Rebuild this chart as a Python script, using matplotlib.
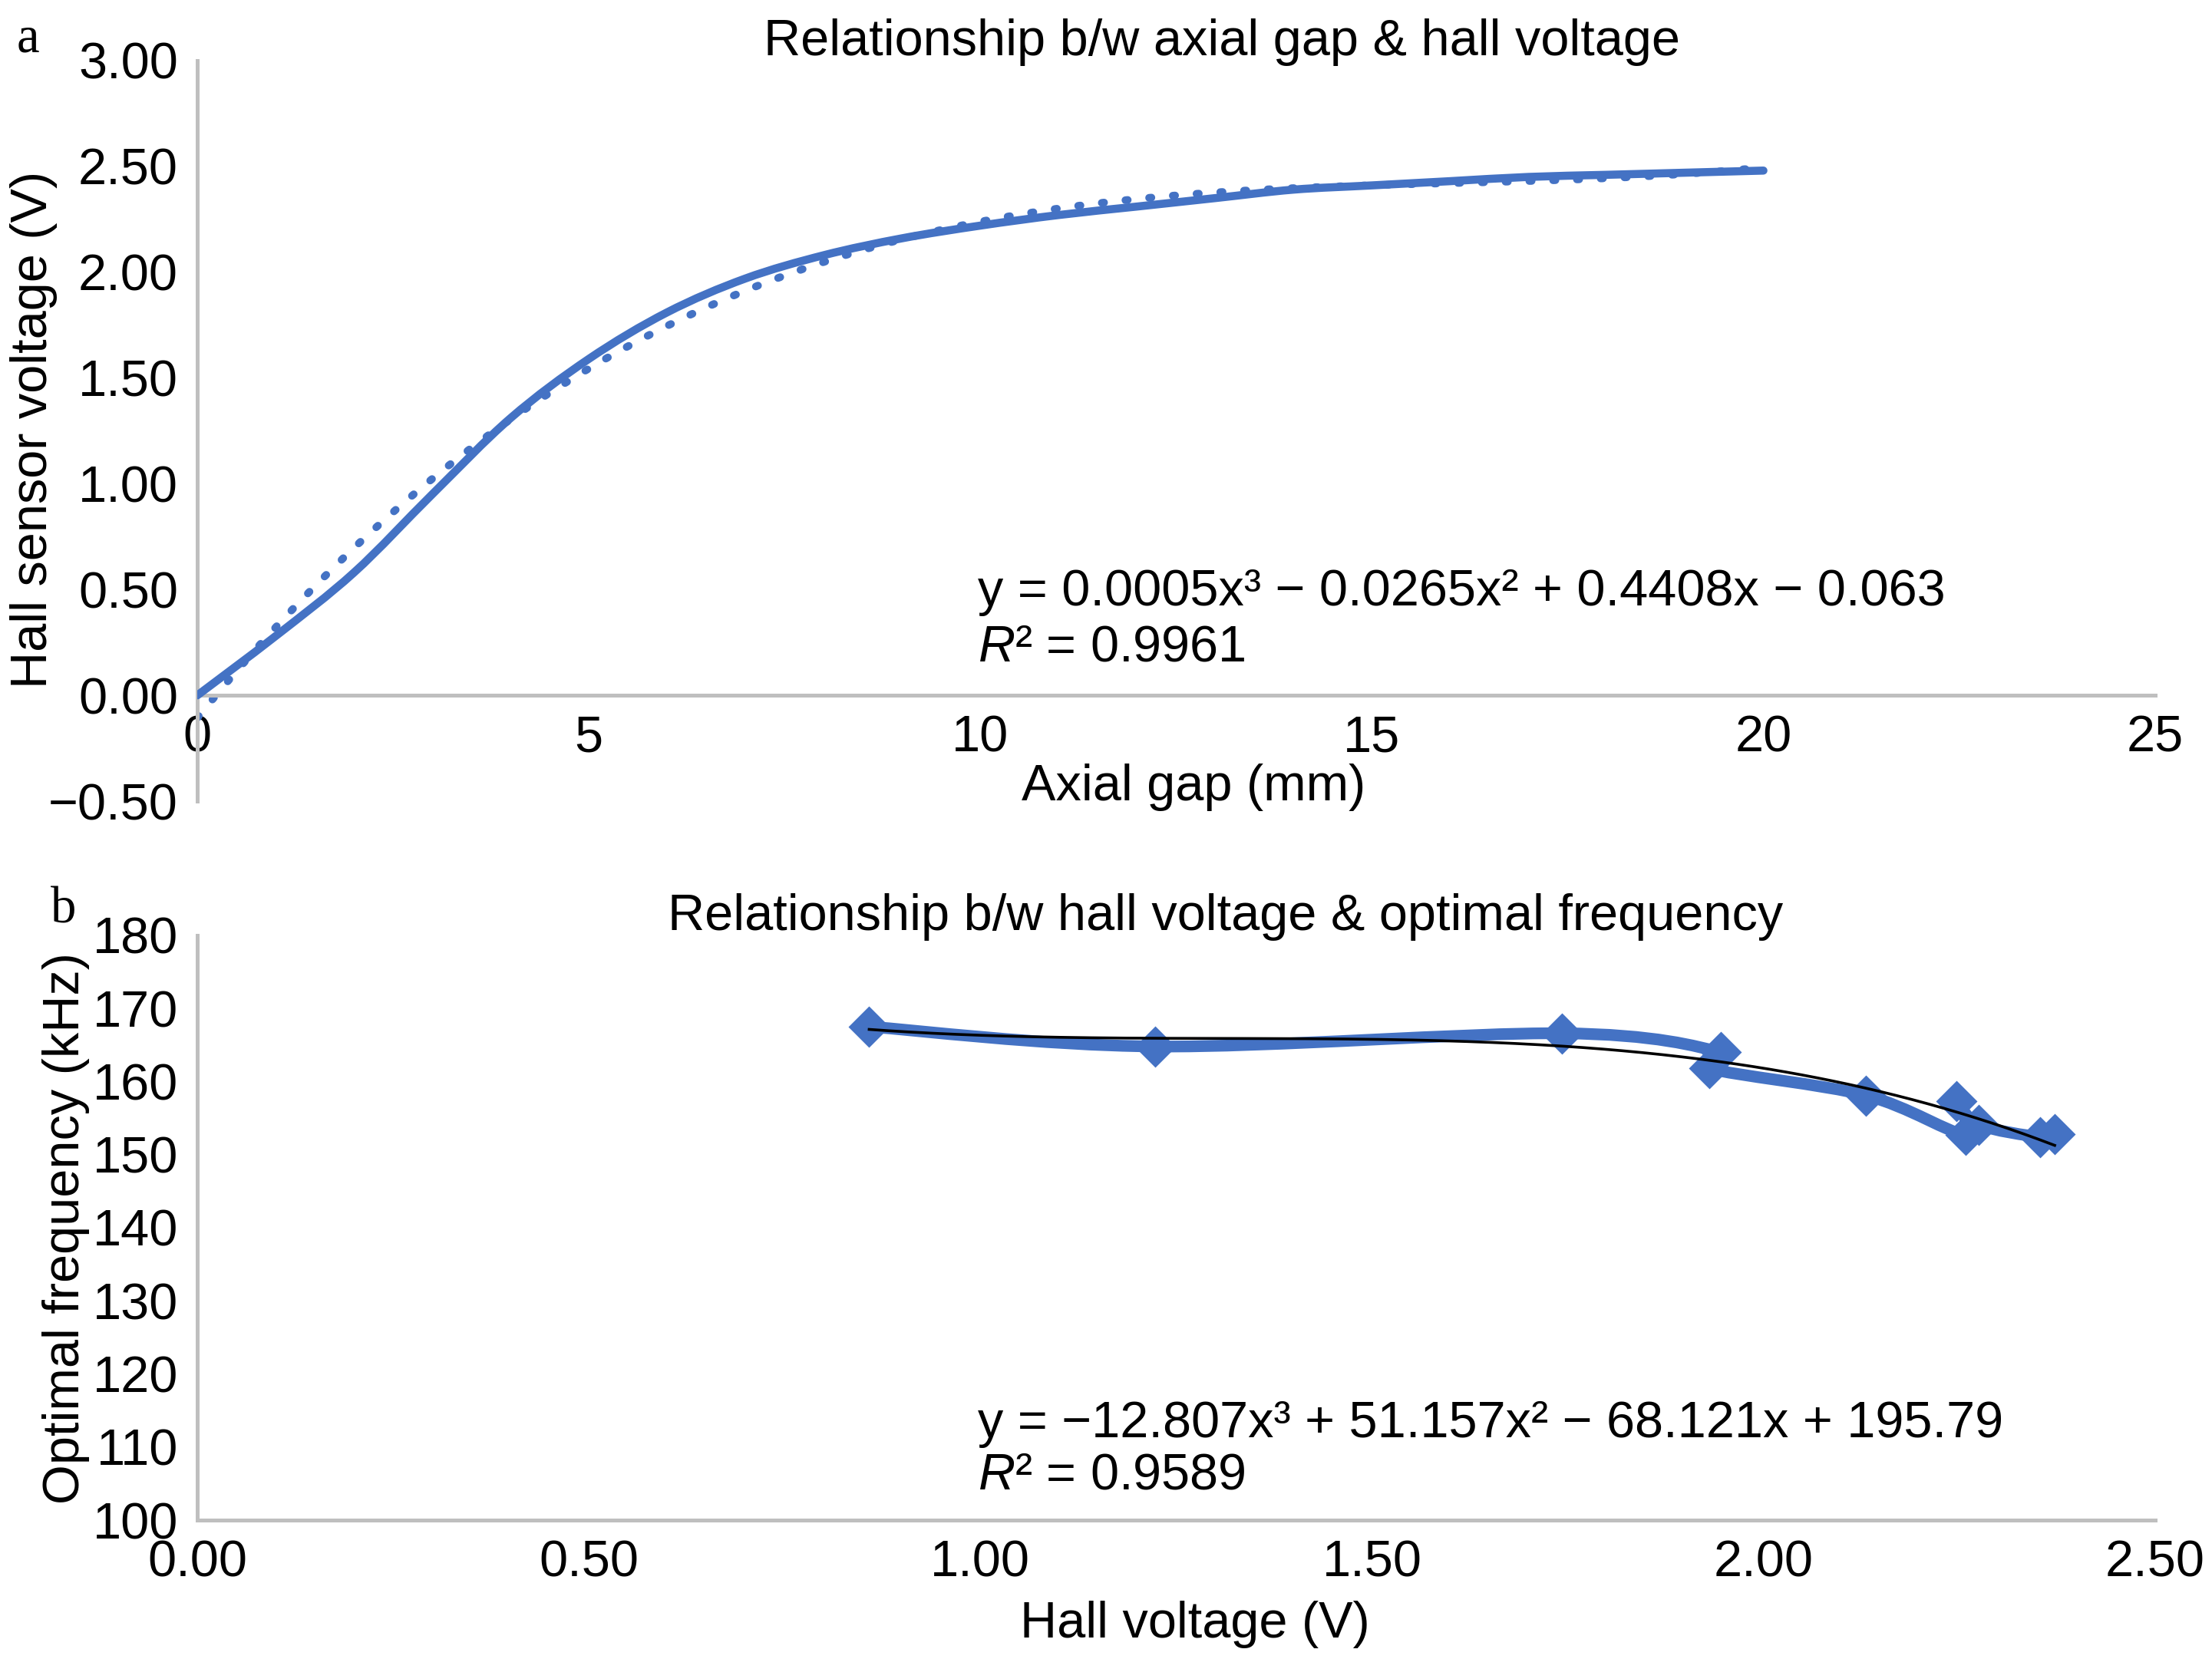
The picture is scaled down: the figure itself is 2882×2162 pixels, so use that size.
import numpy as np
import matplotlib
matplotlib.use("Agg")
import matplotlib.pyplot as plt
from matplotlib.path import Path
from matplotlib.patches import PathPatch

plt.rcParams['font.family'] = ['Liberation Sans', 'DejaVu Sans']
plt.rcParams['mathtext.fontset'] = 'custom'
plt.rcParams['mathtext.rm'] = 'Liberation Sans'
plt.rcParams['mathtext.it'] = 'Liberation Sans:italic'

BLUE = "#4472C4"
AXIS_GRAY = "#BFBFBF"
FS = 24

# --- dados (a): folga axial x tensao hall ---
gap_mm = [0, 1, 2, 3, 4, 5, 6, 7, 8, 9, 10, 11, 12, 13, 14, 15, 16, 17, 18, 19, 20]
hall_v = [0.00, 0.28, 0.58, 0.95, 1.31, 1.59, 1.81, 1.97, 2.08, 2.16, 2.22,
          2.27, 2.31, 2.35, 2.39, 2.41, 2.43, 2.45, 2.46, 2.47, 2.48]

# --- dados (b): tensao hall x frequencia otima (ordem da serie) ---
volt_b = [0.858, 1.223, 1.743, 1.946, 1.931, 2.131, 2.258, 2.246, 2.275, 2.353, 2.372]
freq_b = [167.5, 164.8, 166.6, 164.0, 161.8, 158.1, 152.7, 157.3, 154.1, 152.4, 152.8]

top_xticks = [0, 5, 10, 15, 20, 25]
top_yticks = [-0.5, 0.0, 0.5, 1.0, 1.5, 2.0, 2.5, 3.0]
bot_xticks = [0.0, 0.5, 1.0, 1.5, 2.0, 2.5]
bot_yticks = [100, 110, 120, 130, 140, 150, 160, 170, 180]


def smooth_path(xs, ys):
    # curva suavizada estilo Excel (bezier cubica por catmull-rom)
    p = np.column_stack([xs, ys]).astype(float)
    n = len(p)
    verts = [p[0]]
    codes = [Path.MOVETO]
    for i in range(n - 1):
        p_prev = p[i - 1] if i > 0 else p[i]
        p_next2 = p[i + 2] if i + 2 < n else p[i + 1]
        c1 = p[i] + (p[i + 1] - p_prev) / 6.0
        c2 = p[i + 1] - (p_next2 - p[i]) / 6.0
        verts += [c1, c2, p[i + 1]]
        codes += [Path.CURVE4] * 3
    return Path(verts, codes)


def style_axes(ax):
    for side in ["top", "right"]:
        ax.spines[side].set_visible(False)
    for side in ["left", "bottom"]:
        ax.spines[side].set_color(AXIS_GRAY)
        ax.spines[side].set_linewidth(1.8)
    ax.tick_params(length=0, labelsize=FS, colors="black", pad=9)


fig = plt.figure(figsize=(14.41, 10.81), dpi=200)

# -------------------- painel a --------------------
ax1 = fig.add_axes([0.0892, 0.5171, 0.885, 0.4464])
style_axes(ax1)
ax1.spines["bottom"].set_position(("data", 0))
ax1.set_xlim(0, 25)
ax1.set_ylim(-0.5, 3.0)
ax1.set_xticks(top_xticks)
ax1.set_xticklabels([str(t) for t in top_xticks])
ax1.set_yticks(top_yticks)
ax1.set_yticklabels([f"{t:.2f}".replace("-", "\u2212") for t in top_yticks])

ax1.add_patch(PathPatch(smooth_path(gap_mm, hall_v), fill=False, edgecolor=BLUE,
                        lw=3.8, capstyle="round", joinstyle="round", zorder=3))
coef_a = np.polyfit(gap_mm, hall_v, 3)
xt = np.linspace(gap_mm[0], gap_mm[-1], 300)
ax1.plot(xt, np.polyval(coef_a, xt), color=BLUE, lw=3.6,
         linestyle=(0, (0.3, 2.8)), dash_capstyle="round", zorder=2)

# -------------------- painel b --------------------
ax2 = fig.add_axes([0.0892, 0.0837, 0.885, 0.3525])
style_axes(ax2)
ax2.set_xlim(0, 2.5)
ax2.set_ylim(100, 180)
ax2.set_xticks(bot_xticks)
ax2.set_xticklabels([f"{t:.2f}" for t in bot_xticks])
ax2.set_yticks(bot_yticks)
ax2.set_yticklabels([str(t) for t in bot_yticks])

ax2.add_patch(PathPatch(smooth_path(volt_b, freq_b), fill=False, edgecolor=BLUE,
                        lw=5.5, capstyle="round", joinstyle="round", zorder=2))
ax2.plot(volt_b, freq_b, linestyle="none", marker="D", ms=12.5, color=BLUE, zorder=3)
coef_b = np.polyfit(volt_b, freq_b, 3)
xb = np.linspace(min(volt_b), max(volt_b), 300)
ax2.plot(xb, np.polyval(coef_b, xb), color="black", lw=1.3, zorder=4)

# -------------------- textos --------------------
fig.text(0.5524, 0.9746, "Relationship b/w axial gap & hall voltage", fontsize=FS,
         ha="center", va="center")
fig.text(0.5541, 0.4473, "Relationship b/w hall voltage & optimal frequency", fontsize=FS,
         ha="center", va="center")
fig.text(0.5395, 0.5254, "Axial gap (mm)", fontsize=FS, ha="center", va="center")
fig.text(0.5403, 0.0208, "Hall voltage (V)", fontsize=FS, ha="center", va="center")
fig.text(0.0153, 0.741, "Hall sensor voltage (V)", fontsize=FS, rotation=90,
         ha="center", va="center")
fig.text(0.0298, 0.2595, "Optimal frequency (kHz)", fontsize=FS, rotation=90,
         ha="center", va="center")
fig.text(0.0128, 0.9764, "a", fontsize=FS, family="Liberation Serif", ha="center", va="center")
fig.text(0.0288, 0.4514, "b", fontsize=FS, family="Liberation Serif", ha="center", va="center")

fig.text(0.4421, 0.6429, "y = 0.0005x\u00b3 \u2212 0.0265x\u00b2 + 0.4408x \u2212 0.063",
         fontsize=FS, ha="left", va="center")
fig.text(0.4421, 0.6092, r"$\mathit{R}$" + "\u00b2 = 0.9961", fontsize=FS, ha="left", va="center")
fig.text(0.4421, 0.1415, "y = \u221212.807x\u00b3 + 51.157x\u00b2 \u2212 68.121x + 195.79",
         fontsize=FS, ha="left", va="center")
fig.text(0.4421, 0.1105, r"$\mathit{R}$" + "\u00b2 = 0.9589", fontsize=FS, ha="left", va="center")

fig.savefig("out.png", dpi=200)
